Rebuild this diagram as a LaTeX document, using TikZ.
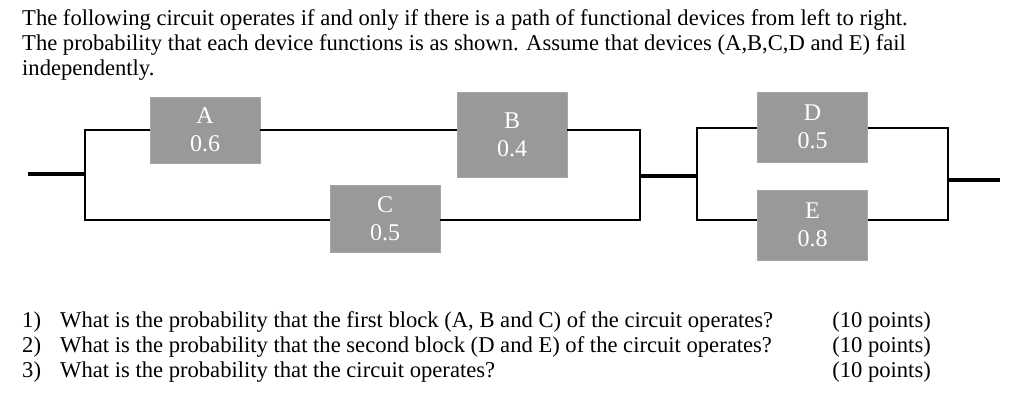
\documentclass[tikz,border=0pt]{standalone}
\usepackage{fontspec}
\setmainfont{Liberation Serif}
\begin{document}
\begin{tikzpicture}[x=1pt,y=-1pt,
  dev/.style={draw=gray!70,fill=gray!80,minimum width=110pt,text=white,font=\fontsize{24}{26}\selectfont,align=center,inner sep=0pt},
  wire/.style={line width=1.2pt},
  thick wire/.style={line width=4pt},
  txt/.style={anchor=base west,inner sep=0pt,font=\fontsize{22.6}{25}\selectfont}]
\useasboundingbox (0,0) rectangle (1024,408);
\node[txt] (t1) at (22,25) {The following circuit operates if and only if there is a path of functional devices from left to right.};
\node[txt] (t2) at (22,50) {The probability that each device functions is as shown. Assume that devices (A,B,C,D and E) fail};
\node[txt] (t3) at (22,75) {independently.};
\node[dev,minimum height=66pt] (A) at (205,130) {A\\[2pt]0.6};
\node[dev,minimum height=85pt] (B) at (512,134.5) {B\\[2pt]0.4};
\node[dev,minimum height=67pt] (C) at (385,218.5) {C\\[2pt]0.5};
\node[dev,minimum height=70pt] (D) at (812.5,127) {D\\[2pt]0.5};
\node[dev,minimum height=70pt] (E) at (812.5,225) {E\\[2pt]0.8};
\coordinate (l1) at (85,130); \coordinate (l2) at (85,220);
\coordinate (r1) at (640,130); \coordinate (r2) at (640,220);
\coordinate (m1) at (697,128); \coordinate (m2) at (697,220);
\coordinate (s1) at (948,128); \coordinate (s2) at (948,220);
\draw[wire] (A.west |- l1) -- (l1) -- (l2) -- (C.west |- l2);
\draw[wire] (A.east |- l1) -- (B.west |- l1);
\draw[wire] (B.east |- r1) -- (r1) -- (r2) -- (C.east |- r2);
\draw[wire] (D.west |- m1) -- (m1) -- (m2) -- (E.west |- m2);
\draw[wire] (D.east |- s1) -- (s1) -- (s2) -- (E.east |- s2);
\coordinate (in) at (28,174); \coordinate (out) at (1000,180);
\draw[thick wire] (in) -- (85,174);
\draw[thick wire] (640,176) -- (697,176);
\draw[thick wire] (948,180) -- (out);
\node[txt] (q1n) at (22,327) {1)}; \node[txt] (q1) at (60,327) {What is the probability that the first block (A, B and C) of the circuit operates?};
\node[txt] (q2n) at (22,352) {2)}; \node[txt] (q2) at (60,352) {What is the probability that the second block (D and E) of the circuit operates?};
\node[txt] (q3n) at (22,377) {3)}; \node[txt] (q3) at (60,377) {What is the probability that the circuit operates?};
\node[txt,anchor=base east] (p1) at (931,327) {(10 points)};
\node[txt,anchor=base east] (p2) at (931,352) {(10 points)};
\node[txt,anchor=base east] (p3) at (931,377) {(10 points)};
\end{tikzpicture}
\end{document}
